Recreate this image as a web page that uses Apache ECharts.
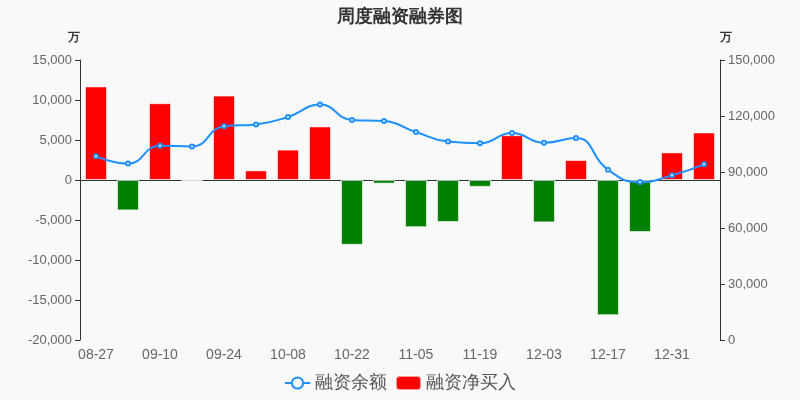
<!DOCTYPE html>
<html>
<head>
<meta charset="utf-8">
<script src="https://cdn.jsdelivr.net/npm/echarts@6/dist/echarts.min.js"></script>
<style>
html,body{margin:0;padding:0;background:#f9f9f9;}
#main{width:800px;height:400px;}
</style>
</head>
<body>
<div id="main"></div>
<script>
// 周度日期
var weeks = ['08-27','09-03','09-10','09-17','09-24','10-01','10-08','10-15','10-22','10-29',
    '11-05','11-12','11-19','11-26','12-03','12-10','12-17','12-24','12-31','01-07'];
// 融资净买入(万)
var netBuy = [11700,-3800,9600,-150,10550,1200,3800,6700,-8100,-450,
    -5900,-5250,-850,5600,-5300,2500,-16900,-6500,3450,5950];
// 融资余额(万)
var balance = [98400,94500,104100,103700,114500,115500,119500,126100,117900,117300,
    111400,106300,105400,110900,105700,108200,91200,84600,88200,94100];

var labelColor = '#666';
var lineColor = '#333';

// 正值红色, 负值绿色
var barData = netBuy.map(function (v) {
    return {value: v, itemStyle: {color: v >= 0 ? '#ff0000' : '#008000'}};
});

var option = {
    backgroundColor: '#f9f9f9',
    title: {
        text: '周度融资融券图',
        left: 'center',
        top: 3,
        textStyle: {fontSize: 18, fontWeight: 'bold', color: '#333'}
    },
    legend: {
        bottom: 3,
        itemWidth: 25,
        itemHeight: 14,
        textStyle: {fontSize: 18, color: '#555'},
        data: ['融资余额', '融资净买入']
    },
    grid: {left: 80, right: 80, top: 60, bottom: 60},
    xAxis: [{
        type: 'category',
        data: weeks,
        axisLine: {onZero: true, onZeroAxisIndex: 0, lineStyle: {color: lineColor}},
        axisTick: {interval: 1, lineStyle: {color: lineColor}},
        axisLabel: {show: false}
    }, {
        type: 'category',
        data: weeks,
        position: 'bottom',
        axisLine: {show: false, onZero: false},
        axisTick: {show: false},
        axisLabel: {interval: 1, fontSize: 14, color: labelColor, margin: 8}
    }],
    yAxis: [{
        type: 'value',
        name: '万',
        nameGap: 16,
        nameTextStyle: {fontWeight: 'bold', fontSize: 12, color: '#333', align: 'right'},
        min: -20000,
        max: 15000,
        interval: 5000,
        axisLine: {show: true, lineStyle: {color: lineColor}},
        axisTick: {show: true, lineStyle: {color: lineColor}},
        axisLabel: {fontSize: 13, color: labelColor},
        splitLine: {show: false}
    }, {
        type: 'value',
        name: '万',
        nameGap: 16,
        nameTextStyle: {fontWeight: 'bold', fontSize: 12, color: '#333', align: 'left'},
        min: 0,
        max: 150000,
        interval: 30000,
        axisLine: {show: true, lineStyle: {color: lineColor}},
        axisTick: {show: true, lineStyle: {color: lineColor}},
        axisLabel: {fontSize: 13, color: labelColor},
        splitLine: {show: false}
    }],
    series: [{
        name: '融资净买入',
        type: 'bar',
        data: barData,
        barWidth: 22,
        itemStyle: {
            color: '#ff0000',
            borderColor: 'rgba(255,255,255,0.6)',
            borderWidth: 1
        }
    }, {
        name: '融资余额',
        type: 'line',
        yAxisIndex: 1,
        data: balance,
        smooth: true,
        symbol: 'emptyCircle',
        symbolSize: 4,
        z: 5,
        lineStyle: {width: 2, color: '#1e90ff'},
        itemStyle: {color: '#1e90ff', borderWidth: 1}
    }]
};

var myChart = echarts.init(document.getElementById('main'));
myChart.setOption(option);
</script>
</body>
</html>
